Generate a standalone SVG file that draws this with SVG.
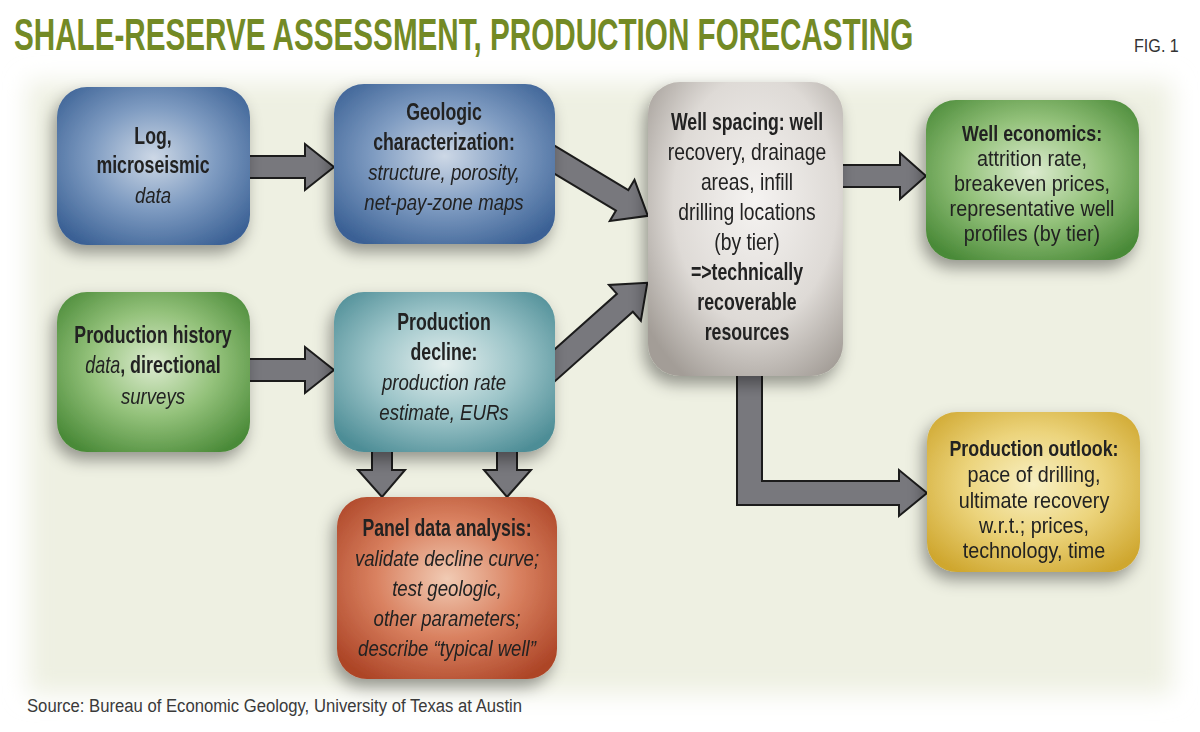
<svg xmlns="http://www.w3.org/2000/svg" width="1200" height="732" viewBox="0 0 1200 732">
<defs>
<style>
.t{font-family:"Liberation Sans",Arial,sans-serif;font-size:23px;fill:#222;text-anchor:middle}
.b{font-weight:bold}
.i{font-style:italic}
.s{font-size:22px}
.arrow{fill:#78787d;stroke:#1c1c1c;stroke-width:2;stroke-linejoin:miter}
</style>
<filter id="soft" x="-10%" y="-10%" width="120%" height="120%"><feGaussianBlur stdDeviation="12"/></filter>
<filter id="sh" x="-20%" y="-20%" width="140%" height="150%"><feDropShadow dx="-4" dy="8" stdDeviation="8" flood-color="#000" flood-opacity="0.38"/></filter>
<radialGradient id="gBlue" cx="50%" cy="45%" r="65%"><stop offset="0" stop-color="#cdd8e6"/><stop offset="0.5" stop-color="#7e9bc1"/><stop offset="1" stop-color="#3b6195"/></radialGradient>
<radialGradient id="gGreen" cx="50%" cy="45%" r="65%"><stop offset="0" stop-color="#dcebcf"/><stop offset="0.5" stop-color="#94c27b"/><stop offset="1" stop-color="#4a8a38"/></radialGradient>
<radialGradient id="gTeal" cx="50%" cy="45%" r="65%"><stop offset="0" stop-color="#e4efee"/><stop offset="0.5" stop-color="#9dc5c9"/><stop offset="1" stop-color="#4d8d96"/></radialGradient>
<radialGradient id="gGray" cx="55%" cy="40%" r="70%"><stop offset="0" stop-color="#f5f3f1"/><stop offset="0.6" stop-color="#dedad6"/><stop offset="1" stop-color="#a39d97"/></radialGradient>
<radialGradient id="gRed" cx="50%" cy="45%" r="65%"><stop offset="0" stop-color="#f1cbb4"/><stop offset="0.5" stop-color="#d98160"/><stop offset="1" stop-color="#ad4527"/></radialGradient>
<radialGradient id="gYellow" cx="50%" cy="45%" r="65%"><stop offset="0" stop-color="#f8f0c4"/><stop offset="0.5" stop-color="#ecd47c"/><stop offset="1" stop-color="#cfa72f"/></radialGradient>
</defs>
<rect width="1200" height="732" fill="#ffffff"/>
<rect x="28" y="82" width="1144" height="612" fill="#eef0e2" filter="url(#soft)"/>
<text transform="translate(14,50) scale(0.659,1)" font-family="Liberation Sans,Arial,sans-serif" font-weight="bold" font-size="45" fill="#738a25">SHALE-RESERVE ASSESSMENT, PRODUCTION FORECASTING</text>
<text transform="translate(1134,52) scale(0.85,1)" font-family="Liberation Sans,Arial,sans-serif" font-size="19" fill="#333">FIG. 1</text>
<g id="connectors">
<path class="arrow" d="M240,156 L305,156 L305,144 L334,167 L305,190 L305,178 L240,178 Z"/>
<path class="arrow" d="M240,359 L305,359 L305,347 L334,370 L305,393 L305,381 L240,381 Z"/>
<path class="arrow" d="M835,165 L900,165 L900,153 L926,176 L900,199 L900,187 L835,187 Z"/>
<path class="arrow" transform="translate(545,154) rotate(31)" d="M0,-12 L90,-12 L90,-24 L120,0 L90,24 L90,12 L0,12 Z"/>
<path class="arrow" transform="translate(545,374) rotate(-41.7)" d="M0,-12 L107,-12 L107,-24 L137,0 L107,24 L107,12 L0,12 Z"/>
<path class="arrow" d="M372,445 L392,445 L392,470 L405,470 L382,497 L358,470 L372,470 Z"/>
<path class="arrow" d="M497,445 L517,445 L517,470 L531,470 L507,497 L484,470 L497,470 Z"/>
<path class="arrow" d="M737,368 L762,368 L762,481 L899,481 L899,470 L927,493 L899,516 L899,505 L737,505 Z"/>
</g>
<g id="log" filter="url(#sh)">
<rect x="57" y="87" width="193" height="158" rx="30" fill="url(#gBlue)"/>
<text class="t b" transform="translate(153,144) scale(0.77,1)">Log,</text>
<text class="t b" transform="translate(153,173) scale(0.77,1)">microseismic</text>
<text class="t i" transform="translate(153,203) scale(0.81,1)">data</text>
</g>
<g id="geologic" filter="url(#sh)">
<rect x="334" y="84" width="221" height="160" rx="30" fill="url(#gBlue)"/>
<text class="t b" transform="translate(444,120) scale(0.77,1)">Geologic</text>
<text class="t b" transform="translate(444,150) scale(0.77,1)">characterization:</text>
<text class="t i" transform="translate(444,180) scale(0.81,1)">structure, porosity,</text>
<text class="t i" transform="translate(444,210) scale(0.81,1)">net-pay-zone maps</text>
</g>
<g id="history" filter="url(#sh)">
<rect x="57" y="292" width="193" height="160" rx="30" fill="url(#gGreen)"/>
<text class="t b" transform="translate(153,343) scale(0.77,1)">Production history</text>
<text class="t" transform="translate(153,373) scale(0.78,1)"><tspan class="i">data</tspan><tspan class="b">, directional</tspan></text>
<text class="t i" transform="translate(153,404) scale(0.81,1)">surveys</text>
</g>
<g id="decline" filter="url(#sh)">
<rect x="334" y="292" width="221" height="160" rx="30" fill="url(#gTeal)"/>
<text class="t b" transform="translate(444,330) scale(0.77,1)">Production</text>
<text class="t b" transform="translate(444,360) scale(0.77,1)">decline:</text>
<text class="t i" transform="translate(444,390) scale(0.81,1)">production rate</text>
<text class="t i" transform="translate(444,420) scale(0.81,1)">estimate, EURs</text>
</g>
<g id="panel" filter="url(#sh)">
<rect x="337" y="497" width="220" height="182" rx="30" fill="url(#gRed)"/>
<text class="t b" transform="translate(447,536) scale(0.77,1)">Panel data analysis:</text>
<text class="t i" transform="translate(447,566) scale(0.81,1)">validate decline curve;</text>
<text class="t i" transform="translate(447,596) scale(0.81,1)">test geologic,</text>
<text class="t i" transform="translate(447,626) scale(0.81,1)">other parameters;</text>
<text class="t i" transform="translate(447,656) scale(0.81,1)">describe “typical well”</text>
</g>
<g id="spacing" filter="url(#sh)">
<rect x="648" y="82" width="195" height="294" rx="32" fill="url(#gGray)"/>
<text class="t b" transform="translate(747,130) scale(0.77,1)">Well spacing: well</text>
<text class="t" transform="translate(747,160) scale(0.84,1)">recovery, drainage</text>
<text class="t" transform="translate(747,190) scale(0.84,1)">areas, infill</text>
<text class="t" transform="translate(747,220) scale(0.84,1)">drilling locations</text>
<text class="t" transform="translate(747,250) scale(0.84,1)">(by tier)</text>
<text class="t b" transform="translate(747,280) scale(0.77,1)">=&gt;technically</text>
<text class="t b" transform="translate(747,310) scale(0.77,1)">recoverable</text>
<text class="t b" transform="translate(747,340) scale(0.77,1)">resources</text>
</g>
<g id="economics" filter="url(#sh)">
<rect x="926" y="100" width="213" height="160" rx="30" fill="url(#gGreen)"/>
<text class="t s b" transform="translate(1032,141) scale(0.81,1)">Well economics:</text>
<text class="t s" transform="translate(1032,166) scale(0.9,1)">attrition rate,</text>
<text class="t s" transform="translate(1032,191) scale(0.9,1)">breakeven prices,</text>
<text class="t s" transform="translate(1032,216) scale(0.9,1)">representative well</text>
<text class="t s" transform="translate(1032,241) scale(0.9,1)">profiles (by tier)</text>
</g>
<g id="outlook" filter="url(#sh)">
<rect x="927" y="412" width="213" height="160" rx="30" fill="url(#gYellow)"/>
<text class="t s b" transform="translate(1034,456) scale(0.81,1)">Production outlook:</text>
<text class="t s" transform="translate(1034,482) scale(0.9,1)">pace of drilling,</text>
<text class="t s" transform="translate(1034,508) scale(0.9,1)">ultimate recovery</text>
<text class="t s" transform="translate(1034,533) scale(0.9,1)">w.r.t.; prices,</text>
<text class="t s" transform="translate(1034,558) scale(0.9,1)">technology, time</text>
</g>
<text x="27" y="712" font-family="Liberation Sans,Arial,sans-serif" font-size="18" fill="#3a3a3a" textLength="495" lengthAdjust="spacingAndGlyphs">Source: Bureau of Economic Geology, University of Texas at Austin</text>
</svg>
